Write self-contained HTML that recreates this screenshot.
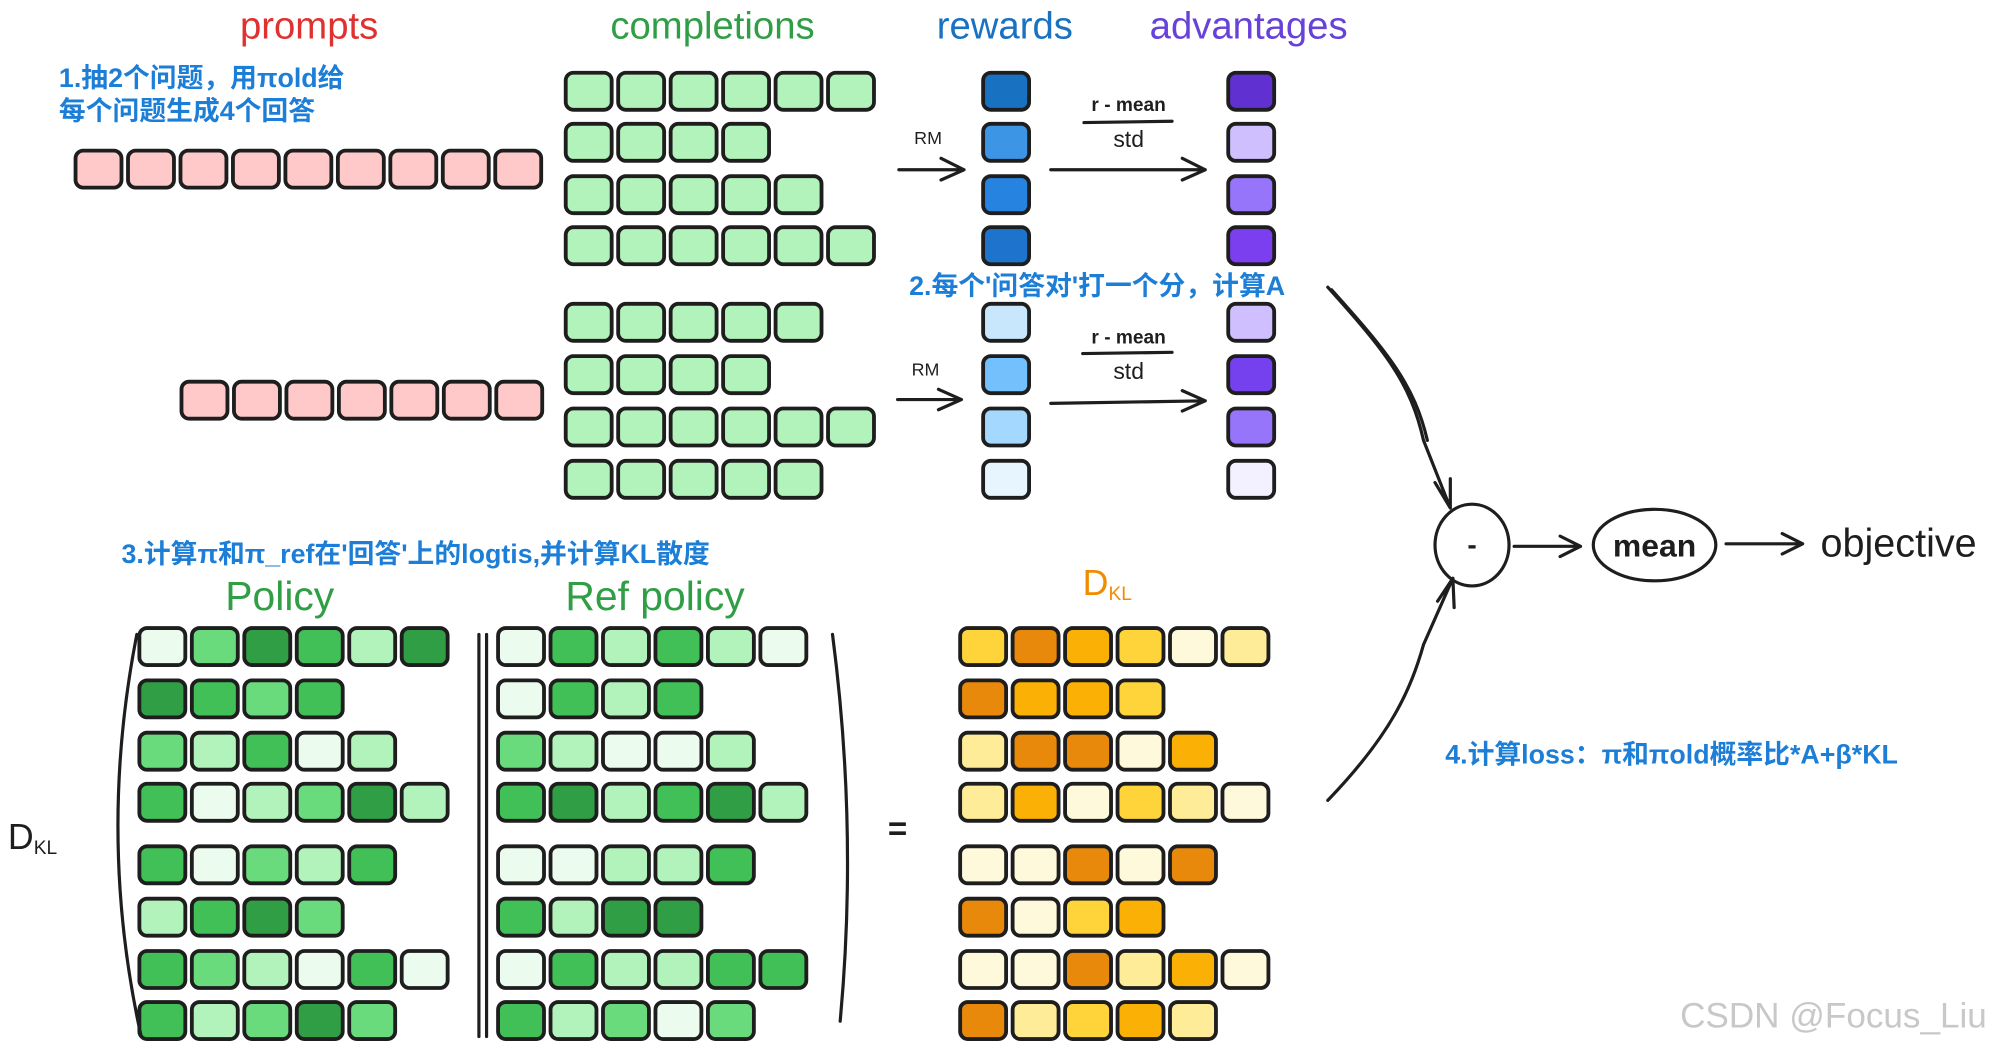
<!DOCTYPE html>
<html><head><meta charset="utf-8"><style>
html,body{margin:0;padding:0;background:#fff;}
svg{display:block;}
.hand{font-family:"Liberation Sans","DejaVu Sans",sans-serif;}
.cn{font-family:"Liberation Sans","Noto Sans CJK SC",sans-serif;font-weight:bold;fill:#1c7ed6;font-size:21px;}
</style></head><body>
<svg id="s" width="2002" height="1048" viewBox="0 0 1568 821" xmlns="http://www.w3.org/2000/svg">
<g id="cells"></g>
<text x="242" y="30" text-anchor="middle" class="hand" font-size="30" fill="#e03131">prompts</text>
<text x="558" y="30" text-anchor="middle" class="hand" font-size="30" fill="#2f9e44">completions</text>
<text x="787" y="30" text-anchor="middle" class="hand" font-size="30" fill="#1971c2">rewards</text>
<text x="978" y="30" text-anchor="middle" class="hand" font-size="30" fill="#6741d9">advantages</text>
<text x="46" y="68" class="cn">1.抽2个问题，用πold给</text>
<text x="46" y="94" class="cn">每个问题生成4个回答</text>
<text x="712" y="231" class="cn">2.每个'问答对'打一个分，计算A</text>
<text x="95" y="441" class="cn" font-size="21.5">3.计算π和π_ref在'回答'上的logtis,并计算KL散度</text>
<text x="1132" y="598" class="cn">4.计算loss：π和πold概率比*A+β*KL</text>
<text x="219" y="478" text-anchor="middle" class="hand" font-size="32" fill="#2f9e44">Policy</text>
<text x="513" y="478" text-anchor="middle" class="hand" font-size="32" fill="#2f9e44">Ref policy</text>
<text x="848" y="466" class="hand" font-size="28" fill="#f08c00">D<tspan font-size="15" dy="4">KL</tspan></text>
<text x="6" y="665" class="hand" font-size="28" fill="#1e1e1e">D<tspan font-size="15" dy="4">KL</tspan></text>
<text x="703" y="658" text-anchor="middle" class="hand" font-size="26" font-weight="bold" fill="#1e1e1e">=</text>
<g stroke="#1e1e1e" stroke-width="2.5" fill="none" stroke-linecap="round" stroke-linejoin="round">
<path d="M107,497 Q76,655 110,810"/>
<path d="M652,497 Q672,650 658,800"/>
<path d="M375,497 L375,812"/><path d="M381,497 L381,812"/>
<path d="M704,133 L755,133 M737,124 L755,133 L737,141"/>
<path d="M703,313 L753,313 M735,305 L753,313 L735,321"/>
<path d="M849,96 L918,95"/><path d="M848,277 L918,276"/>
<path d="M823,133 L944,133 M926,124 L944,133 L926,141"/>
<path d="M823,316 L944,314 M926,306 L944,314 L926,322"/>
<path d="M1040,225 C1085,275 1105,300 1115,345 L1136,398 M1124,378 L1136,398 L1136,375"/>
<path d="M1043,227 C1088,277 1108,302 1118,345"/>
<path d="M1040,627 C1090,575 1105,540 1115,505 L1138,453 M1126,471 L1138,453 L1139,476"/>
<ellipse cx="1153" cy="427" rx="29" ry="32"/>
<path d="M1186,428 L1238,428 M1222,420 L1238,428 L1222,436"/>
<ellipse cx="1296" cy="427" rx="48" ry="28"/>
<path d="M1352,426 L1412,426 M1396,418 L1412,426 L1396,434"/>
</g>
<text x="1153" y="434" text-anchor="middle" class="hand" font-size="22" font-weight="bold" fill="#1e1e1e">-</text>
<text x="1296" y="436" text-anchor="middle" class="hand" font-size="25" font-weight="bold" fill="#1e1e1e">mean</text>
<text x="1426" y="436" class="hand" font-size="31" fill="#1e1e1e">objective</text>
<text x="716" y="113" class="hand" font-size="14" fill="#1e1e1e">RM</text>
<text x="714" y="294" class="hand" font-size="14" fill="#1e1e1e">RM</text>
<text x="884" y="87" text-anchor="middle" class="hand" font-size="15" font-weight="bold" fill="#1e1e1e">r - mean</text>
<text x="884" y="115" text-anchor="middle" class="hand" font-size="18" fill="#1e1e1e">std</text>
<text x="884" y="269" text-anchor="middle" class="hand" font-size="15" font-weight="bold" fill="#1e1e1e">r - mean</text>
<text x="884" y="297" text-anchor="middle" class="hand" font-size="18" fill="#1e1e1e">std</text>
<text x="1316" y="805" font-family="Liberation Sans,sans-serif" font-size="27.5" fill="#c8c8c8">CSDN @Focus_Liu</text>
</svg>
<script>
var g=document.getElementById('cells');
function c(x,y,f){var r=document.createElementNS('http://www.w3.org/2000/svg','rect');
r.setAttribute('x',x);r.setAttribute('y',y);r.setAttribute('width',36);r.setAttribute('height',29);
r.setAttribute('rx',6);r.setAttribute('fill',f);r.setAttribute('stroke','#1e1e1e');r.setAttribute('stroke-width',3);g.appendChild(r);}
var P='#ffc9c9',G='#b2f2bb';
for(var i=0;i<9;i++)c(59+i*41.1,118,P);
for(var i=0;i<7;i++)c(142+i*41.1,299,P);
var cy=[57,97,138,178,238,279,320,361],cn=[6,4,5,6,5,4,6,5];
for(var r=0;r<8;r++)for(var i=0;i<cn[r];i++)c(443+i*41.1,cy[r],G);
var rw=['#1971c2','#3d95e6','#2684e0','#1e74cc','#c8e6fc','#74c0fc','#a5d8ff','#e7f5ff'];
var ad=['#6130d0','#d0bfff','#9775fa','#7b3ff0','#d0bfff','#7540ee','#9775fa','#f3f0ff'];
for(var r=0;r<8;r++){c(770,cy[r],rw[r]);c(962,cy[r],ad[r]);}
var gc={v:'#ebfbee',l:'#b2f2bb',m:'#69db7c',g:'#40c057',d:'#2f9e44'};
var oc={Y:'#ffd43b',O:'#e8890c',A:'#fab005',L:'#ffec99',V:'#fff9db'};
var pol=['vmdgld','dgmg','mlgvl','gvlmdl','gvmlg','lgdm','gmlvgv','glmdm'];
var ref=['vglglv','vglg','mlvvl','gdlgdl','vvllg','gldd','vgllgg','glmvm'];
var dkl=['YOAYVL','OAAY','LOOVA','LAVYLV','VVOVO','OVYA','VVOLAV','OLYAL'];
var ry=[492,533,574,614,663,704,745,785];
for(var r=0;r<8;r++){for(var i=0;i<pol[r].length;i++)c(109+i*41.1,ry[r],gc[pol[r][i]]);
for(var i=0;i<ref[r].length;i++)c(390+i*41.1,ry[r],gc[ref[r][i]]);
for(var i=0;i<dkl[r].length;i++)c(752+i*41.1,ry[r],oc[dkl[r][i]]);}
</script>
</body></html>
